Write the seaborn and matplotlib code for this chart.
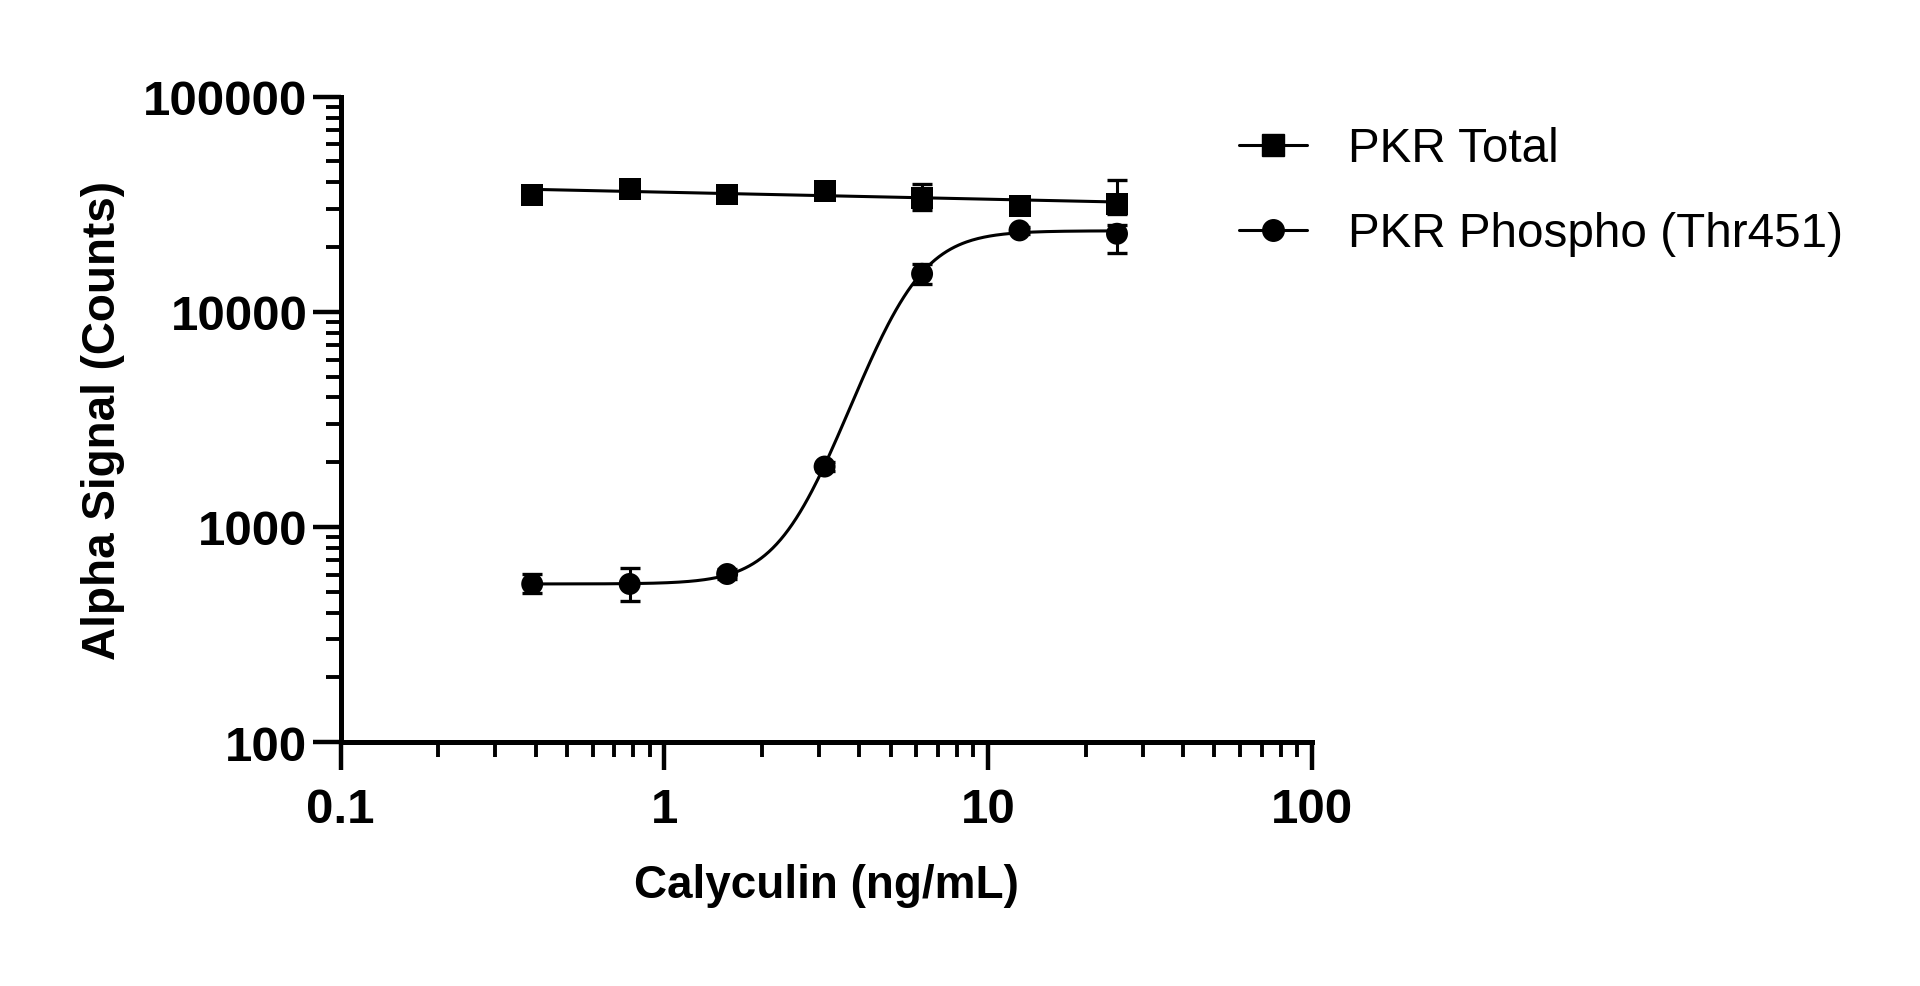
import matplotlib
matplotlib.use("Agg")
import matplotlib.pyplot as plt
from matplotlib.lines import Line2D
from matplotlib.ticker import LogLocator, FixedLocator, FixedFormatter, NullFormatter
import numpy as np
import pandas as pd
import seaborn as sns

# concentraciones (ng/mL), diluciones 1:2 desde 25
conc = [0.390625, 0.78125, 1.5625, 3.125, 6.25, 12.5, 25]

# PKR Total
total_mean = [34750, 37200, 35100, 36500, 33900, 30900, 31800]
total_err_lo = [1500, 1800, 1200, 1600, 4300, 1400, 3400]
total_err_hi = [1500, 1800, 1200, 1600, 5500, 1400, 9200]
# recta de ajuste (extremos)
total_fit_x = [0.390625, 25]
total_fit_y = [37100, 32400]

# PKR Phospho (Thr451)
phospho_mean = [543, 543, 604, 1908, 15020, 23900, 23060]
phospho_err_lo = [52, 90, 30, 90, 1520, 1000, 4200]
phospho_err_hi = [60, 100, 30, 90, 1700, 1000, 2300]
# parametros del ajuste sigmoidal (4PL)
phospho_bottom = 543
phospho_top = 23800
phospho_ec50 = 5.58
phospho_hill = 4.75

nombres = ['PKR Total', 'PKR Phospho (Thr451)']

sns.set_theme(style='ticks')
plt.rcParams['font.family'] = ['Liberation Sans', 'DejaVu Sans']
plt.rcParams['text.color'] = 'black'
plt.rcParams['axes.labelcolor'] = 'black'
plt.rcParams['xtick.color'] = 'black'
plt.rcParams['ytick.color'] = 'black'

datos = pd.DataFrame({
    'conc': conc + conc,
    'senal': total_mean + phospho_mean,
    'serie': [nombres[0]] * len(conc) + [nombres[1]] * len(conc),
})

xs = np.logspace(np.log10(conc[0]), np.log10(conc[-1]), 300)
ajuste = pd.DataFrame({
    'conc': list(total_fit_x) + list(xs),
    'senal': list(total_fit_y) + list(phospho_bottom + (phospho_top - phospho_bottom) / (1 + (phospho_ec50 / xs) ** phospho_hill)),
    'serie': [nombres[0]] * 2 + [nombres[1]] * len(xs),
})

fig = plt.figure(figsize=(19.2, 9.87), dpi=100)
ax = fig.add_axes([0.1774, 0.2472, 0.5059, 0.6538])
ax.set_xscale('log')
ax.set_yscale('log')

sns.lineplot(data=ajuste, x='conc', y='senal', units='serie', estimator=None,
             color='black', linewidth=2.2, sort=False, ax=ax, legend=False)

ax.errorbar(conc, total_mean, yerr=[total_err_lo, total_err_hi], fmt='none',
            ecolor='black', elinewidth=2.2, capsize=7, capthick=2.4, zorder=3)
ax.errorbar(conc, phospho_mean, yerr=[phospho_err_lo, phospho_err_hi], fmt='none',
            ecolor='black', elinewidth=2.2, capsize=7, capthick=2.4, zorder=3)

sns.scatterplot(data=datos, x='conc', y='senal', style='serie',
                markers={nombres[0]: 's', nombres[1]: 'o'},
                color='black', s=250, edgecolor='black', linewidth=0,
                ax=ax, legend=False, zorder=4)

ax.set_xlim(0.1, 100)
ax.set_ylim(100, 100000)

ax.xaxis.set_major_locator(FixedLocator([0.1, 1, 10, 100]))
ax.xaxis.set_major_formatter(FixedFormatter(['0.1', '1', '10', '100']))
ax.xaxis.set_minor_locator(LogLocator(base=10, subs=np.arange(2, 10)))
ax.xaxis.set_minor_formatter(NullFormatter())
ax.yaxis.set_major_locator(FixedLocator([100, 1000, 10000, 100000]))
ax.yaxis.set_major_formatter(FixedFormatter(['100', '1000', '10000', '100000']))
ax.yaxis.set_minor_locator(LogLocator(base=10, subs=np.arange(2, 10)))
ax.yaxis.set_minor_formatter(NullFormatter())

for lado in ['top', 'right']:
    ax.spines[lado].set_visible(False)
for lado in ['left', 'bottom']:
    ax.spines[lado].set_linewidth(3.6)
    ax.spines[lado].set_color('black')
    ax.spines[lado].set_capstyle('projecting')

ax.tick_params(which='major', length=20, width=3.2, color='black', direction='out')
ax.tick_params(which='minor', length=10.5, width=2.8, color='black', direction='out')
ax.tick_params(axis='x', which='major', pad=12.5)
ax.tick_params(axis='y', which='major', pad=4)
for lab in ax.get_xticklabels() + ax.get_yticklabels():
    lab.set_fontsize(35.5)
    lab.set_fontweight('bold')
    lab.set_color('black')

ax.set_xlabel('Calyculin (ng/mL)', fontsize=33, fontweight='bold', labelpad=22, color='black')
ax.set_ylabel('Alpha Signal (Counts)', fontsize=33, fontweight='bold', labelpad=13, color='black')
ax.grid(False)

manijas = [
    Line2D([], [], color='black', lw=2.2, marker='s', markersize=15.5),
    Line2D([], [], color='black', lw=2.2, marker='o', markersize=15.5),
]
leyenda = fig.legend(manijas, nombres, loc='upper left', bbox_to_anchor=(1239 / 1920, 0.871),
                     frameon=False, borderpad=0, borderaxespad=0, handlelength=1.42,
                     handletextpad=0.86, labelspacing=0.84, fontsize=34.3)
for t in leyenda.get_texts():
    t.set_color('black')

fig.savefig('out.png', dpi=100, facecolor='white')
